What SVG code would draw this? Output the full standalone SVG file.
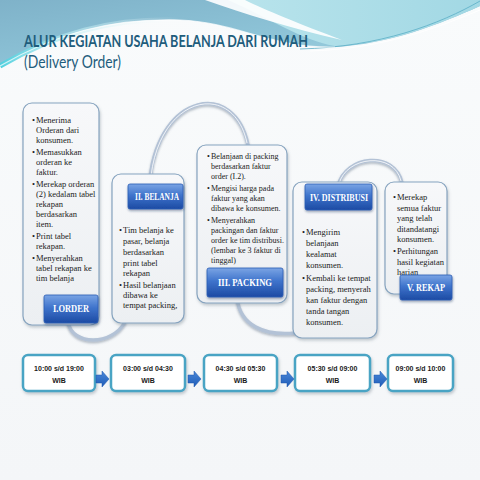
<svg xmlns="http://www.w3.org/2000/svg" width="480" height="480" viewBox="0 0 480 480">
<defs>
<linearGradient id="bg" x1="0" y1="0" x2="0" y2="1"><stop offset="0" stop-color="#f9fbfc"/><stop offset="1" stop-color="#f4f6f8"/></linearGradient>
<linearGradient id="waveL" x1="0" y1="0" x2="1" y2="1"><stop offset="0" stop-color="#7fb2c9"/><stop offset="0.5" stop-color="#8cc2d6"/><stop offset="1" stop-color="#9fd3e1"/></linearGradient>
<linearGradient id="waveR" x1="0" y1="0" x2="1" y2="0"><stop offset="0" stop-color="#b9e4ec"/><stop offset="1" stop-color="#a2d8e4"/></linearGradient>
<linearGradient id="edge" x1="0" y1="0" x2="1" y2="0"><stop offset="0" stop-color="#4fd0de"/><stop offset="0.4" stop-color="#bfeef3" stop-opacity="0.6"/><stop offset="1" stop-color="#ffffff" stop-opacity="0"/></linearGradient>
<linearGradient id="card" x1="0" y1="0" x2="0" y2="1"><stop offset="0" stop-color="#f7f8fa"/><stop offset="1" stop-color="#eceff2"/></linearGradient>
<linearGradient id="btn" x1="0" y1="0" x2="0" y2="1"><stop offset="0" stop-color="#7aa4e4"/><stop offset="0.45" stop-color="#3f74cc"/><stop offset="1" stop-color="#1c4aa3"/></linearGradient>
<linearGradient id="arr" x1="0" y1="0" x2="0" y2="1"><stop offset="0" stop-color="#4a88d8"/><stop offset="1" stop-color="#1f5cb8"/></linearGradient>
<filter id="sh" x="-20%" y="-20%" width="140%" height="140%"><feDropShadow dx="1" dy="2" stdDeviation="1.8" flood-color="#5a6a7a" flood-opacity="0.35"/></filter>
<filter id="shb" x="-20%" y="-20%" width="140%" height="150%"><feDropShadow dx="0.5" dy="1.5" stdDeviation="1.2" flood-color="#1a2f5a" flood-opacity="0.45"/></filter>
<filter id="sha" x="-20%" y="-20%" width="140%" height="160%"><feDropShadow dx="0" dy="1.5" stdDeviation="1.2" flood-color="#55657a" flood-opacity="0.45"/></filter>
</defs>
<style>
.card{fill:url(#card);stroke:#86a3bf;stroke-width:1.2}
.btn{fill:url(#btn);stroke:#2b5db5;stroke-width:0.8}
.bt{font-family:"Liberation Serif",serif;font-weight:bold;font-size:10px;fill:#ffffff;text-anchor:middle}
.tx{font-family:"Liberation Serif",serif;font-size:8.5px;fill:#222222}
.tp{font-family:"Liberation Serif",serif;font-size:8px;fill:#222222}
.arc{fill:none;stroke:#b3c2d6;stroke-width:3.5;stroke-linecap:round}
.arch{fill:none;stroke:#ffffff;stroke-width:1;stroke-opacity:0.8}
.tb{fill:#ffffff;stroke:#4aa4c4;stroke-width:2.5}
.tt{font-family:"Liberation Sans",Arial,sans-serif;font-weight:bold;font-size:7px;fill:#1a1a1a;text-anchor:middle}
.ar{fill:url(#arr);stroke:#1d57ad;stroke-width:0.5}
.title{font-family:Lato,"Open Sans",sans-serif;fill:#1f5d7c}
</style>
<rect width="480" height="480" fill="url(#bg)"/>
<g id="background">
<path d="M0,0 H480 V6 C440,24 390,44 335,47 C275,49 235,22 180,20 C110,18 55,34 0,66 Z" fill="url(#waveL)"/>
<path d="M228,0 H480 V6 C440,24 390,44 335,46 C300,40 270,18 228,0 Z" fill="url(#waveR)"/>
<path d="M205,0 C245,14 290,28 342,40 C300,24 265,10 245,0 Z" fill="#ffffff" fill-opacity="0.9"/>
<path d="M0,66 C55,34 110,18 180,20" fill="none" stroke="url(#edge)" stroke-width="5"/>
<path d="M300,49 C380,47 440,24 480,1" fill="none" stroke="#5aaec6" stroke-width="0.8"/>
<path d="M310,51 C390,49 450,22 480,10" fill="none" stroke="#ffffff" stroke-width="1"/>
<path d="M0,66 C55,34 110,18 180,20 C235,22 275,49 335,47" fill="none" stroke="#ffffff" stroke-width="1.2" stroke-opacity="0.7"/>
</g>
<g id="title">
<text class="title" x="24" y="47" font-size="17" font-weight="bold" textLength="284" lengthAdjust="spacingAndGlyphs">ALUR KEGIATAN USAHA BELANJA DARI RUMAH</text>
<text class="title" x="24" y="68" font-size="17" textLength="97" lengthAdjust="spacingAndGlyphs">(Delivery Order)</text>
</g>
<g id="connectors">
<path class="arc" d="M68,322 C72,346 112,346 125,322" filter="url(#sha)"/>
<path class="arc" d="M150,178 C160,92 235,80 248,145" filter="url(#sha)"/>
<path class="arch" d="M151,176 C161,93 234,81 247,143"/>
<path class="arc" d="M237,298 C240,326 265,336 295,333" filter="url(#sha)"/>
<path class="arc" d="M338,186 C345,155 395,150 402,183" filter="url(#sha)"/>
<path class="arch" d="M339,184 C346,156 394,151 401,181"/>
</g>
<g id="order">
<rect class="card" x="23" y="103" width="76" height="222" rx="9" filter="url(#sh)"/>
<g class="tx">
<text x="32" y="123">•</text><text x="36" y="123">Menerima</text>
<text x="36" y="133">Orderan dari</text>
<text x="36" y="143">konsumen.</text>
<text x="32" y="155">•</text><text x="36" y="155">Memasukkan</text>
<text x="36" y="165">orderan ke</text>
<text x="36" y="175">faktur.</text>
<text x="32" y="187">•</text><text x="36" y="187">Merekap orderan</text>
<text x="36" y="197">(2) kedalam tabel</text>
<text x="36" y="207">rekapan</text>
<text x="36" y="217">berdasarkan</text>
<text x="36" y="227">item.</text>
<text x="32" y="239">•</text><text x="36" y="239">Print tabel</text>
<text x="36" y="249">rekapan.</text>
<text x="32" y="261">•</text><text x="36" y="261">Menyerahkan</text>
<text x="36" y="271">tabel rekapan ke</text>
<text x="36" y="281">tim belanja</text>
</g>
<rect class="btn" x="44" y="295" width="54" height="28" rx="2" filter="url(#shb)"/>
<text class="bt" x="71" y="312" textLength="36" lengthAdjust="spacingAndGlyphs">I.ORDER</text>
</g>
<g id="belanja">
<rect class="card" x="112" y="174" width="72" height="149" rx="9" filter="url(#sh)"/>
<rect class="btn" x="128" y="184" width="55" height="25" rx="2" filter="url(#shb)"/>
<text class="bt" x="157" y="200" textLength="44" lengthAdjust="spacingAndGlyphs">II. BELANJA</text>
<g class="tx">
<text x="119" y="233">•</text><text x="123" y="233">Tim belanja ke</text>
<text x="123" y="244">pasar, belanja</text>
<text x="123" y="255">berdasarkan</text>
<text x="123" y="266">print tabel</text>
<text x="123" y="276">rekapan</text>
<text x="119" y="288">•</text><text x="123" y="288">Hasil belanjaan</text>
<text x="123" y="298">dibawa ke</text>
<text x="123" y="308">tempat packing,</text>
</g>
</g>
<g id="packing">
<rect class="card" x="197" y="145" width="90" height="158" rx="9" filter="url(#sh)"/>
<g class="tp">
<text x="207" y="159">•</text><text x="211" y="159">Belanjaan di packing</text>
<text x="211" y="169">berdasarkan faktur</text>
<text x="211" y="179">order (I.2).</text>
<text x="207" y="191">•</text><text x="211" y="191">Mengisi harga pada</text>
<text x="211" y="201">faktur yang akan</text>
<text x="211" y="211">dibawa ke konsumen.</text>
<text x="207" y="223">•</text><text x="211" y="223">Menyerahkan</text>
<text x="211" y="233">packingan dan faktur</text>
<text x="211" y="243">order ke tim distribusi.</text>
<text x="211" y="253">(lembar ke 3 faktur di</text>
<text x="211" y="263">tinggal)</text>
</g>
<rect class="btn" x="207" y="268" width="76" height="29" rx="2" filter="url(#shb)"/>
<text class="bt" x="245" y="286" textLength="54" lengthAdjust="spacingAndGlyphs">III. PACKING</text>
</g>
<g id="distribusi">
<rect class="card" x="293" y="182" width="84" height="156" rx="9" filter="url(#sh)"/>
<rect class="btn" x="305" y="184" width="67" height="26" rx="2" filter="url(#shb)"/>
<text class="bt" x="339" y="201" textLength="58" lengthAdjust="spacingAndGlyphs">IV. DISTRIBUSI</text>
<g class="tx">
<text x="302" y="235">•</text><text x="306" y="235">Mengirim</text>
<text x="306" y="246">belanjaan</text>
<text x="306" y="257">kealamat</text>
<text x="306" y="268">konsumen.</text>
<text x="302" y="281">•</text><text x="306" y="281">Kembali ke tempat</text>
<text x="306" y="292">packing, menyerah</text>
<text x="306" y="303">kan faktur dengan</text>
<text x="306" y="314">tanda tangan</text>
<text x="306" y="325">konsumen.</text>
</g>
</g>
<g id="rekap">
<rect class="card" x="385" y="182" width="62" height="112" rx="9" filter="url(#sh)"/>
<g class="tx">
<text x="393" y="200">•</text><text x="397" y="200">Merekap</text>
<text x="397" y="210.5">semua faktur</text>
<text x="397" y="221">yang telah</text>
<text x="397" y="231.5">ditandatangi</text>
<text x="397" y="242">konsumen.</text>
<text x="393" y="254">•</text><text x="397" y="254">Perhitungan</text>
<text x="397" y="264.5">hasil kegiatan</text>
<text x="397" y="275">harian</text>
</g>
<rect class="btn" x="400" y="275" width="52" height="25" rx="2" filter="url(#shb)"/>
<text class="bt" x="426" y="291" textLength="38" lengthAdjust="spacingAndGlyphs">V. REKAP</text>
</g>
<g id="time1">
<rect class="tb" x="23" y="355" width="72" height="36" rx="5" filter="url(#sh)"/>
<text class="tt" x="59" y="371">10:00 s/d 19:00</text><text class="tt" x="59" y="383">WIB</text>
</g>
<g id="time2">
<rect class="tb" x="111" y="355" width="74" height="36" rx="5" filter="url(#sh)"/>
<text class="tt" x="148" y="371">03:00 s/d 04:30</text><text class="tt" x="148" y="383">WIB</text>
</g>
<g id="time3">
<rect class="tb" x="204" y="355" width="73" height="36" rx="5" filter="url(#sh)"/>
<text class="tt" x="240.5" y="371">04:30 s/d 05:30</text><text class="tt" x="240.5" y="383">WIB</text>
</g>
<g id="time4">
<rect class="tb" x="295" y="355" width="75" height="36" rx="5" filter="url(#sh)"/>
<text class="tt" x="332.5" y="371">05:30 s/d 09:00</text><text class="tt" x="332.5" y="383">WIB</text>
</g>
<g id="time5">
<rect class="tb" x="388" y="355" width="65" height="36" rx="5" filter="url(#sh)"/>
<text class="tt" x="420.5" y="371">09:00 s/d 10:00</text><text class="tt" x="420.5" y="383">WIB</text>
</g>
<g id="arrows">
<polygon class="ar" points="96,375 102,375 102,371 109,379 102,387 102,383 96,383"/>
<polygon class="ar" points="188,375 194,375 194,371 201,379 194,387 194,383 188,383"/>
<polygon class="ar" points="281,375 287,375 287,371 294,379 287,387 287,383 281,383"/>
<polygon class="ar" points="374,375 380,375 380,371 387,379 380,387 380,383 374,383"/>
</g>
</svg>
